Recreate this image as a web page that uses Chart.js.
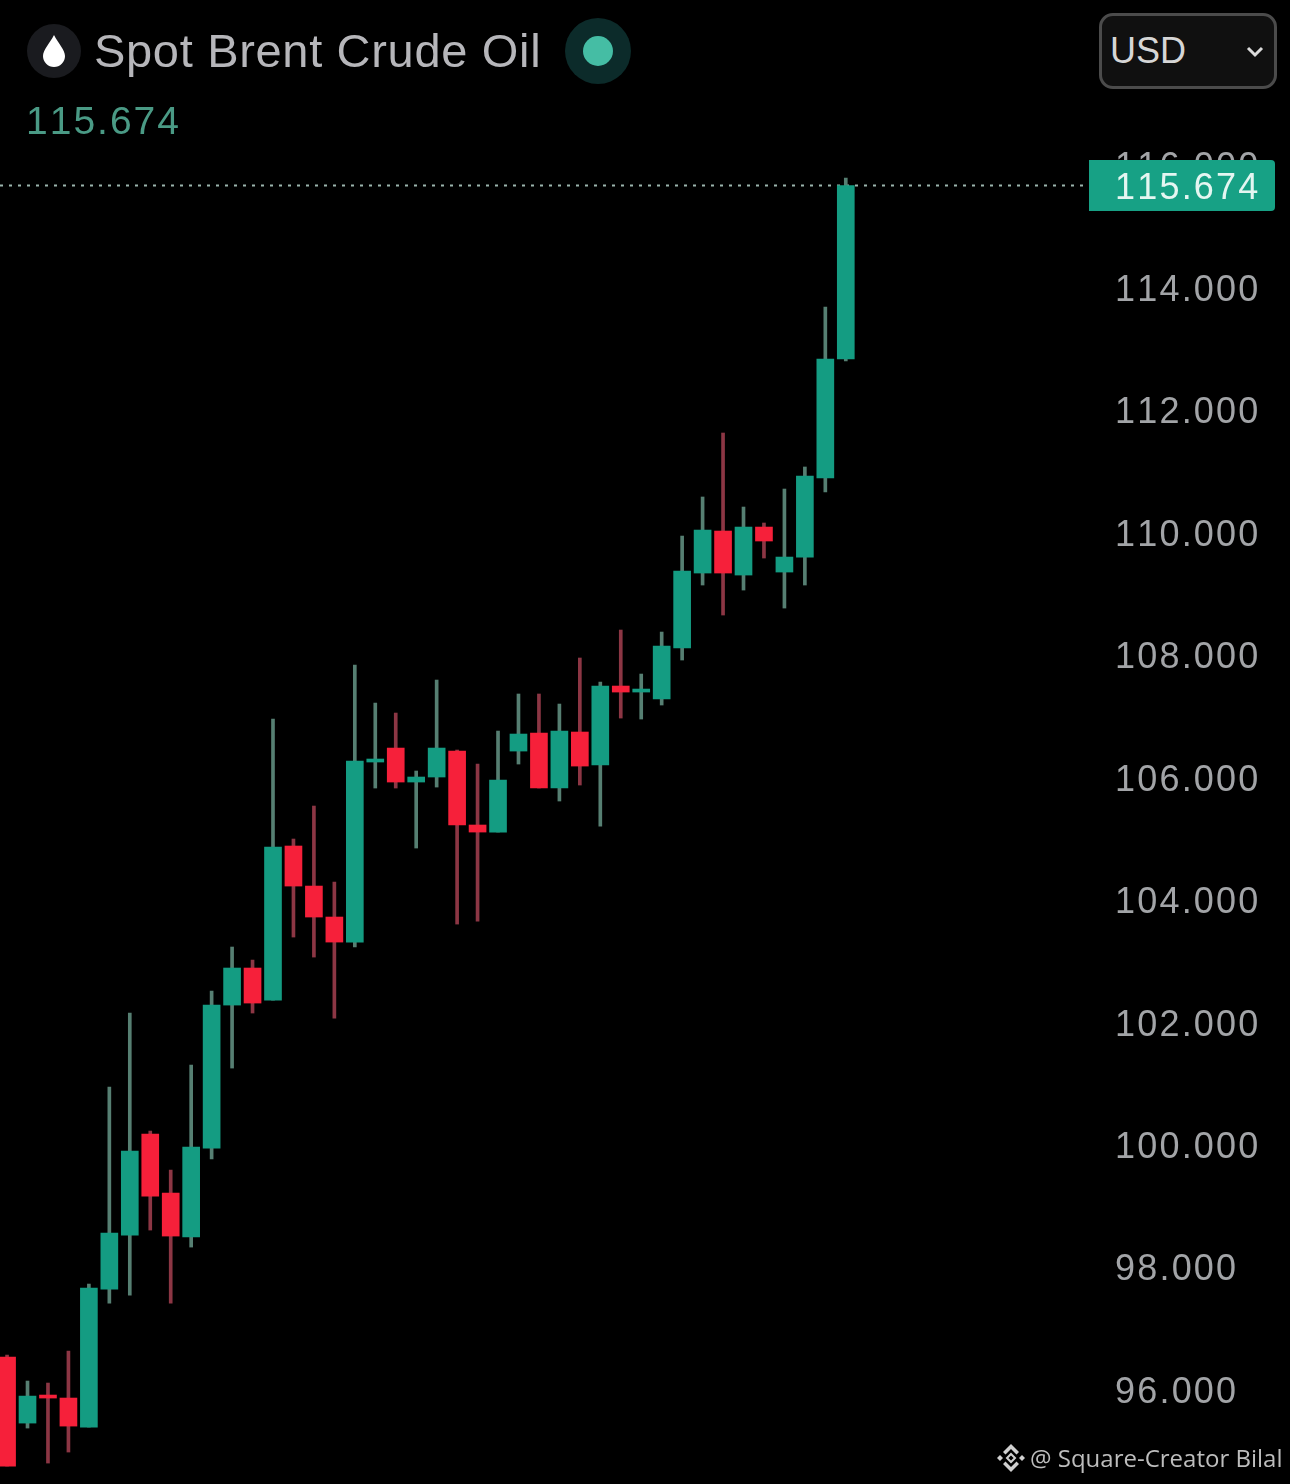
<!DOCTYPE html>
<html lang="en">
<head>
    <meta charset="UTF-8">
    <title>Spot Brent Crude Oil</title>
    <script src="https://cdn.jsdelivr.net/npm/chart.js"></script>
    <style>
        html, body { margin: 0; padding: 0; background: #000; }
        body { width: 1290px; height: 1484px; position: relative; overflow: hidden; font-family: "Liberation Sans", sans-serif; }
        canvas { position: absolute; left: 0; top: 0; }
        .overlay { position: absolute; white-space: nowrap; }
        #title { left: 94px; top: 23px; font-size: 47px; line-height: 56px; color: #b6b6ba; letter-spacing: 0.68px; }
        #price { left: 26px; top: 98px; font-size: 39px; line-height: 46px; color: #4a9a85; letter-spacing: 2px; font-kerning: none; }
        #currency { left: 1099px; top: 13px; width: 178px; height: 76px; box-sizing: border-box; border: 3px solid #4b4b4b; border-radius: 14px; background: #101010; }
        #currency span { position: absolute; left: 8px; top: 12px; font-size: 36px; line-height: 46px; color: #d6d6d6; }
        #watermark { left: 1030px; top: 1441px; font-family: "Open Sans", sans-serif; font-size: 24px; line-height: 34px; color: #bdbdbd; }
    </style>
</head>
<body>

    <canvas id="oilChart" width="1290" height="1484"></canvas>

    <!-- Header -->
    <svg class="overlay" style="left:0;top:0" width="660" height="100">
        <circle cx="54" cy="51" r="27" fill="#1a1b1f"/>
        <path d="M54 35 C58 43 65 50 65 56 A11 11 0 0 1 43 56 C43 50 50 43 54 35 Z" fill="#fff"/>
        <circle cx="598" cy="51" r="33" fill="#0c2b2a"/>
        <circle cx="598" cy="51" r="15" fill="#45bda4"/>
    </svg>
    <div class="overlay" id="title">Spot Brent Crude Oil</div>
    <div class="overlay" id="price">115.674</div>

    <!-- Currency dropdown -->
    <div class="overlay" id="currency">
        <span>USD</span>
        <svg style="position:absolute;left:143px;top:29px" width="20" height="14">
            <polyline points="3,3 10,10 17,3" fill="none" stroke="#dcdcdc" stroke-width="3"/>
        </svg>
    </div>

    <!-- Watermark -->
    <svg class="overlay" style="left:996px;top:1443px" width="30" height="30" viewBox="0 0 30 30">
        <g fill="#d0d0d0">
            <path d="M15 11 L19 15 L15 19 L11 15 Z" fill="none" stroke="#d0d0d0" stroke-width="2"/>
            <path d="M15 1 L23 9 L20.5 11.5 L15 6 L9.500 11.500 L7 9 Z"/>
            <path d="M15 29 L23 21 L20.5 18.5 L15 24 L9.500 18.500 L7 21 Z"/>
            <path d="M4 12 L7 15 L4 18 L1 15 Z"/>
            <path d="M26 12 L29 15 L26 18 L23 15 Z"/>
        </g>
    </svg>
    <div class="overlay" id="watermark">@ Square-Creator Bilal</div>

    <script>
        // Candles, oldest first
        const opens = [96.537, 95.459, 95.917, 95.868, 95.394, 97.648, 98.530, 100.180, 99.216, 98.498, 99.951, 102.287, 102.892, 102.369, 104.885, 104.231, 103.725, 103.316, 106.257, 106.485, 105.930, 106.012, 106.436, 105.228, 105.113, 106.436, 106.730, 105.832, 106.747, 106.208, 107.498, 107.400, 107.286, 108.119, 109.344, 110.030, 109.311, 110.095, 109.360, 109.605, 110.896, 112.840];
        const highs = [96.570, 96.146, 96.113, 96.635, 97.730, 100.948, 102.157, 100.229, 99.592, 101.307, 102.516, 103.235, 103.022, 106.959, 104.999, 105.538, 104.297, 107.841, 107.220, 107.057, 106.110, 107.596, 106.453, 106.224, 106.763, 107.368, 107.368, 107.204, 107.956, 107.564, 108.413, 107.694, 108.380, 109.948, 110.586, 111.631, 110.422, 110.161, 110.716, 111.076, 113.689, 115.796];
        const lows = [94.757, 95.378, 94.806, 94.986, 95.394, 97.419, 97.550, 98.612, 97.419, 98.334, 99.772, 101.258, 102.157, 102.369, 103.398, 103.071, 102.075, 103.235, 105.832, 105.832, 104.852, 105.848, 103.610, 103.659, 105.113, 106.224, 105.832, 105.620, 105.881, 105.211, 106.975, 106.959, 107.188, 107.923, 109.148, 108.658, 109.066, 109.589, 108.772, 109.148, 110.667, 112.807];
        const closes = [94.757, 95.900, 95.868, 95.410, 97.665, 98.563, 99.902, 99.167, 98.514, 99.968, 102.287, 102.892, 102.320, 104.868, 104.231, 103.725, 103.316, 106.273, 106.306, 105.930, 106.012, 106.485, 105.228, 105.113, 105.963, 106.714, 105.832, 106.763, 106.191, 107.498, 107.400, 107.449, 108.152, 109.377, 110.046, 109.344, 110.095, 109.867, 109.605, 110.929, 112.840, 115.674];
        const tickValues = [96, 98, 100, 102, 104, 106, 108, 110, 112, 114, 116];
        const lastPrice = 115.674;

        const upColor = '#149c82';
        const downColor = '#f6203a';
        const upWick = '#567f72';
        const downWick = '#8c3644';

        const xMin = -0.345;
        const xMax = 52.84;

        const isUp = closes.map((c, i) => c >= opens[i]);

        // Ticks are drawn spaced out, set the spacing before chart.js draws them
        const spacingPlugin = {
            id: 'spacing',
            beforeDraw(chart) {
                chart.ctx.letterSpacing = '2.2px';
                chart.ctx.fontKerning = 'none';
            }
        };

        // Tick labels have z 1 so they draw after the datasets: nudge them down a little
        const labelNudgePlugin = {
            id: 'labelNudge',
            afterDatasetsDraw(chart) {
                chart.ctx.save();
                chart.ctx.translate(0, 3);
            },
            afterDraw(chart) {
                chart.ctx.restore();
            }
        };

        // Green price tag on the axis, sits over the 116.000 label
        const priceTagPlugin = {
            id: 'priceTag',
            afterDraw(chart) {
                const ctx = chart.ctx;
                const y = chart.scales.y.getPixelForValue(lastPrice);
                ctx.save();
                ctx.fillStyle = '#17a185';
                ctx.beginPath();
                ctx.roundRect(1089, y - 25.5, 186, 51, [0, 4, 4, 0]);
                ctx.fill();
                ctx.fillStyle = '#e4f6f1';
                ctx.font = '36px "Liberation Sans", sans-serif';
                ctx.letterSpacing = '2.2px';
                ctx.fontKerning = 'none';
                ctx.textAlign = 'left';
                ctx.textBaseline = 'middle';
                ctx.fillText(lastPrice.toFixed(3), 1115, y + 4);
                ctx.restore();
            }
        };

        new Chart(document.getElementById('oilChart'), {
            data: {
                datasets: [
                    {
                        type: 'bar',
                        label: 'Body',
                        order: 1,
                        grouped: false,
                        barThickness: 17,
                        borderWidth: 0,
                        backgroundColor: isUp.map(up => up ? upColor : downColor),
                        data: opens.map((o, i) => ({ x: i, y: [o, closes[i]] }))
                    },
                    {
                        type: 'bar',
                        label: 'Wick',
                        order: 2,
                        grouped: false,
                        barThickness: 3,
                        borderWidth: 0,
                        backgroundColor: isUp.map(up => up ? upWick : downWick),
                        data: lows.map((l, i) => ({ x: i, y: [l, highs[i]] }))
                    },
                    {
                        type: 'line',
                        label: 'Last',
                        order: 3,
                        borderColor: '#9bb5ad',
                        borderWidth: 2,
                        borderDash: [3, 6],
                        pointRadius: 0,
                        data: [{ x: xMin, y: lastPrice }, { x: xMax, y: lastPrice }]
                    }
                ]
            },
            options: {
                responsive: false,
                animation: false,
                devicePixelRatio: 1,
                layout: { padding: 0, autoPadding: false },
                plugins: {
                    legend: { display: false },
                    title: { display: false },
                    tooltip: { enabled: false }
                },
                scales: {
                    x: {
                        type: 'linear',
                        display: false,
                        offset: false,
                        min: xMin,
                        max: xMax
                    },
                    y: {
                        position: 'right',
                        min: 94.464,
                        max: 118.704,
                        border: { display: false },
                        grid: { display: false, drawTicks: false },
                        afterBuildTicks: scale => {
                            scale.ticks = tickValues.map(v => ({ value: v }));
                        },
                        // fixed axis width, and no room kept for the label overhang
                        afterFit: scale => {
                            scale.width = 202;
                            scale.paddingTop = 0;
                            scale.paddingBottom = 0;
                        },
                        ticks: {
                            autoSkip: false,
                            z: 1,
                            padding: 27,
                            crossAlign: 'near',
                            color: '#a2a4a7',
                            font: { family: '"Liberation Sans", sans-serif', size: 36 },
                            callback: v => v.toFixed(3)
                        }
                    }
                }
            },
            plugins: [spacingPlugin, labelNudgePlugin, priceTagPlugin]
        });
    </script>

</body>
</html>
